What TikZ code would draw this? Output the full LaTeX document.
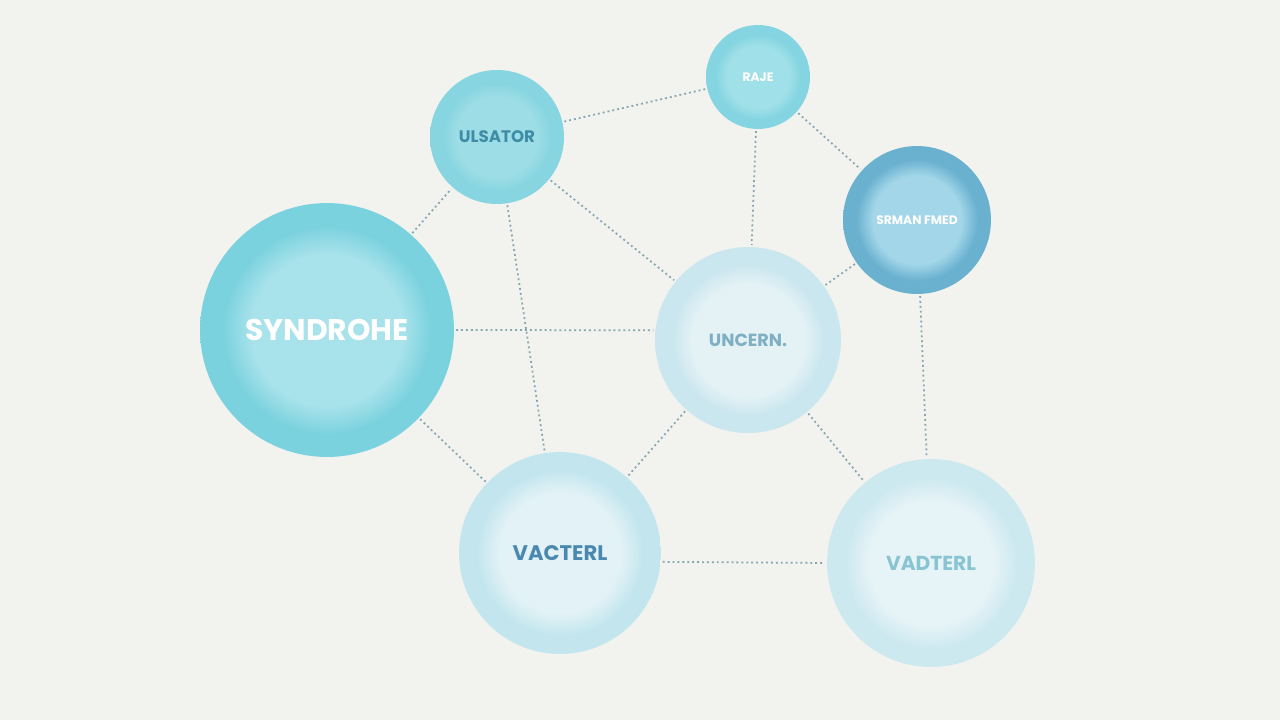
\documentclass[tikz,border=0pt]{standalone}
\usepackage{fontspec}
\setmainfont{Poppins}
\definecolor{paper}{HTML}{F2F2EE}
\definecolor{dots}{HTML}{86A8B2}
\definecolor{synout}{HTML}{7AD2DE}\definecolor{synin}{HTML}{A8E2EB}
\definecolor{ulsout}{HTML}{86D5E0}\definecolor{ulsin}{HTML}{9DDDE6}\definecolor{ulstext}{HTML}{3F8CA6}
\definecolor{rajout}{HTML}{84D5E1}\definecolor{rajin}{HTML}{A0E0E8}
\definecolor{semout}{HTML}{6AB1D0}\definecolor{semin}{HTML}{A2D6E8}
\definecolor{uncout}{HTML}{CAE6EE}\definecolor{uncin}{HTML}{E4F2F6}\definecolor{unctext}{HTML}{7EAFC2}
\definecolor{vacout}{HTML}{C3E6EE}\definecolor{vacin}{HTML}{E2F2F6}\definecolor{vactext}{HTML}{4A88B0}
\definecolor{vadout}{HTML}{CDE9F0}\definecolor{vadin}{HTML}{E6F3F7}\definecolor{vadtext}{HTML}{88C4D2}
\colorlet{bubout}{white}
\colorlet{bubin}{white}
\pgfdeclareradialshading[bubin,bubout]{bubble}{\pgfpointorigin}{color(0bp)=(bubin); color(15bp)=(bubin); color(20.5bp)=(bubout); color(25bp)=(bubout); color(50bp)=(bubout)}
\begin{document}
\begin{tikzpicture}[x=0.02cm,y=-0.02cm,
  bubble/.style n args={4}{circle, inner sep=0pt, minimum size=#1*0.04cm,
    /utils/exec={\colorlet{bubout}{#2}\colorlet{bubin}{#3}},
    shade, shading=bubble, text=#4},
  ]
  \tikzstyle{link}=[draw=dots, line width=1pt, dash pattern=on 1.1pt off 1.7pt, shorten >=1pt, shorten <=1pt]
  \fill[paper] (0,0) rectangle (1280,720);
  \useasboundingbox (0,0) rectangle (1280,720);
  \begin{scope}
    % outer ring, inner disk, text
    \node [bubble={127}{synout}{synin}{white}, font=\bfseries\fontsize{17}{17}\selectfont] (syn) at (327,330) {SYNDROHE};
    \node [bubble={67}{ulsout}{ulsin}{ulstext}, font=\bfseries\fontsize{9.5}{10}\selectfont] (uls) at (497,137) {ULSATOR};
    \node [bubble={52}{rajout}{rajin}{white}, font=\bfseries\fontsize{7}{8}\selectfont] (raj) at (758,77) {RAJE};
    \node [bubble={74}{semout}{semin}{white}, font=\bfseries\fontsize{7}{8}\selectfont] (sem) at (917,220) {SRMAN FMED};
    \node [bubble={93}{uncout}{uncin}{unctext}, font=\bfseries\fontsize{10}{11}\selectfont] (unc) at (748,340) {UNCERN.};
    \node [bubble={101}{vacout}{vacin}{vactext}, font=\bfseries\fontsize{12}{13}\selectfont] (vac) at (560,553) {VACTERL};
    \node [bubble={104}{vadout}{vadin}{vadtext}, font=\bfseries\fontsize{11.5}{12}\selectfont] (vad) at (931,563) {VADTERL};
  \end{scope}
  \path[link] (syn) edge (uls);
  \path[link] (syn.east) edge (unc.174);
  \path[link] (syn) edge (vac);
  \path[link] (uls) edge (raj);
  \path[link] (uls) edge (unc);
  \path[link] (uls) edge (vac);
  \path[link] (raj) edge (unc);
  \path[link] (raj) edge (sem);
  \path[link] (sem) edge (unc);
  \path[link] (sem) edge (vad);
  \path[link] (unc) edge (vac);
  \path[link] (unc) edge (vad);
  \path[link] (vac.-5) edge (vad.west);
\end{tikzpicture}
\end{document}
